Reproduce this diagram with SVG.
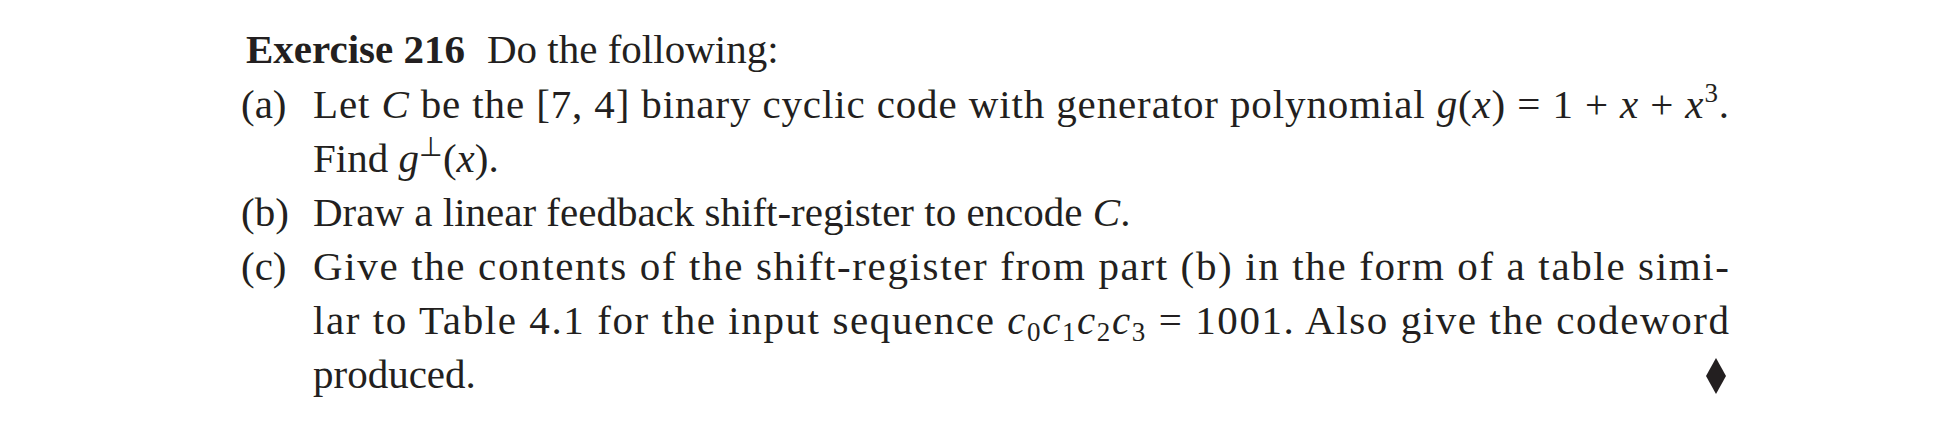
<svg xmlns="http://www.w3.org/2000/svg" width="1948" height="421" viewBox="0 0 1948 421">
<style>
text{font-family:"Liberation Serif","Times New Roman",serif;font-size:41px;fill:#231f20}
.i{font-style:italic}
.b{font-weight:bold}
.s{font-size:27px}
</style>
<rect width="1948" height="421" fill="#fff"/>
<g id="title"><text x="246" y="63"><tspan class="b">Exercise 216</tspan><tspan dx="22">Do the following:</tspan></text></g>
<g id="part-a">
<text x="241" y="118">(a)</text>
<text x="313" y="118" textLength="1416" lengthAdjust="spacing">Let <tspan class="i">C</tspan> be the [7, 4] binary cyclic code with generator polynomial <tspan class="i">g</tspan>(<tspan class="i">x</tspan>) = 1 + <tspan class="i">x</tspan> + <tspan class="i">x</tspan><tspan class="s" dy="-16">3</tspan><tspan dy="16">.</tspan></text>
<text x="313" y="172">Find <tspan class="i">g</tspan><tspan class="s" dy="-16">⊥</tspan><tspan dy="16">(</tspan><tspan class="i">x</tspan>).</text>
</g>
<g id="part-b">
<text x="241" y="226">(b)</text>
<text x="313" y="226">Draw a linear feedback shift-register to encode <tspan class="i">C</tspan>.</text>
</g>
<g id="part-c">
<text x="241" y="280">(c)</text>
<text x="313" y="280" textLength="1416" lengthAdjust="spacing">Give the contents of the shift-register from part (b) in the form of a table simi-</text>
<text x="313" y="334" textLength="1416" lengthAdjust="spacing">lar to Table 4.1 for the input sequence <tspan class="i">c</tspan><tspan class="s" dy="7">0</tspan><tspan class="i" dy="-7">c</tspan><tspan class="s" dy="7">1</tspan><tspan class="i" dy="-7">c</tspan><tspan class="s" dy="7">2</tspan><tspan class="i" dy="-7">c</tspan><tspan class="s" dy="7">3</tspan><tspan dy="-7"> = 1001. Also give the codeword</tspan></text>
<text x="313" y="388">produced.</text>
</g>
<polygon id="qed" points="1716,358 1726,376 1716,394 1706,376" fill="#231f20"/>
</svg>
